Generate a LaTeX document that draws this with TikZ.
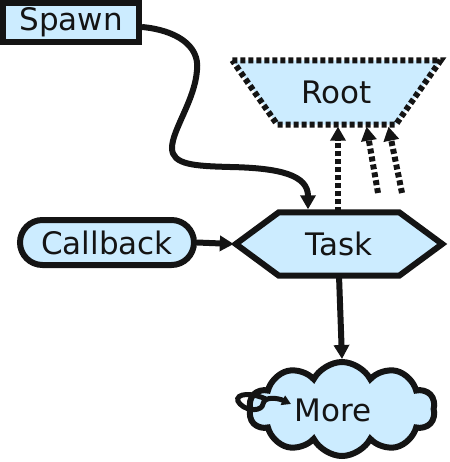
\documentclass[tikz,border=0pt]{standalone}
\usepackage{fontspec}
\setmainfont{DejaVu Sans}
\usetikzlibrary{shapes.misc,shapes.symbols,arrows.meta,calc,backgrounds}
\definecolor{fillblue}{RGB}{204,236,255}
\definecolor{ink}{RGB}{20,20,20}
\begin{document}
\begin{tikzpicture}[x=1pt,y=-1pt,
  every node/.style={font=\fontsize{31}{36}\selectfont, text=ink, inner sep=0pt},
  shapeline/.style={draw=ink, line width=6pt, fill=fillblue},
  conn/.style={draw=ink, line width=6pt, -{Triangle[length=14pt,width=15pt]}},
  dotconn/.style={conn, dash pattern=on 5pt off 3pt},
  loopconn/.style={draw=ink, line width=5pt, -{Triangle[length=9pt,width=10pt]}}]
\useasboundingbox (0,0) rectangle (449,462);

% nodes
\node[shapeline, minimum width=136pt, minimum height=39pt] (spawn) at (71,22.5) {Spawn};
\node[shapeline, rounded rectangle, minimum width=174pt, minimum height=45pt] (cb) at (107,242.5) {Callback};
\node[minimum width=206pt, minimum height=63pt] (task) at (339,244) {Task};
\node[minimum width=208pt, minimum height=64pt] (root) at (336.5,92.5) {Root};
\node[shapeline, cloud, cloud puffs=10, cloud puff arc=125, cloud ignores aspect,
      minimum width=186pt, minimum height=94pt] (more) at (342,409) {};
\node (moretext) at (333,410) {More};

\begin{scope}[on background layer]
  \draw[shapeline] (task.west) -- ($(task.north west)+(43,0)$) -- ($(task.north east)+(-43,0)$)
     -- (task.east) -- ($(task.south east)+(-43,0)$) -- ($(task.south west)+(43,0)$) -- cycle;
  \draw[shapeline, dash pattern=on 5pt off 3pt] (root.north west) -- (root.north east)
     -- ($(root.south east)+(-45,0)$) -- ($(root.south west)+(45,0)$) -- cycle;
\end{scope}

% connectors
\draw[conn] ($(spawn.east)+(0,4.5)$) .. controls (175,30) and (200,45) .. (197,70)
   .. controls (195,100) and (172,130) .. (172,148)
   .. controls (172,165) and (195,166) .. (230,167)
   .. controls (280,168) and (308,175) .. ($(task.north)+(-31,-3)$);
\draw[conn] (cb.east) -- ($(task.west)+(-2,0)$);
\draw[conn] (task.south) -- (more.north);
\draw[dotconn] ($(task.north)+(-1,0)$) -- ($(root.south)+(1.5,2)$);
\coordinate (f1) at (378,193);
\coordinate (f2) at (402,193);
\draw[dotconn] (f1) -- ($(root.south)+(30,2)$);
\draw[dotconn] (f2) -- ($(root.south)+(52,2)$);
\coordinate (ls) at (266,399);
\coordinate (le) at (291,404);
\draw[loopconn] (ls) .. controls (245,390) and (232,396) .. (240,404)
   .. controls (248,412) and (262,411) .. (263,404)
   .. controls (264,396) and (278,398) .. (le);
\end{tikzpicture}
\end{document}
